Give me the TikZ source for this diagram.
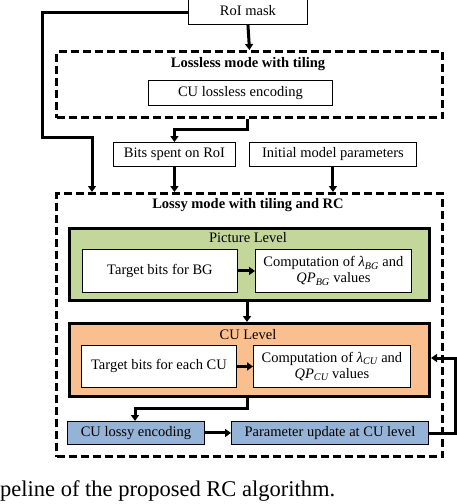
\documentclass[tikz,border=0pt]{standalone}
\usepackage{fontspec}
\setmainfont{Liberation Serif}
\usetikzlibrary{arrows.meta,calc}
\definecolor{picgreen}{RGB}{196,215,155}
\definecolor{cuorange}{RGB}{250,191,143}
\definecolor{encblue}{RGB}{149,179,215}
\newcommand{\lsub}[2]{{\itshape #1}\textsubscript{\itshape #2}}
\tikzset{
  txt/.style={font=\fontsize{14.5}{16}\selectfont},
  box/.style={draw=black, line width=0.9pt, fill=white, inner sep=0pt, align=center, txt, anchor=north west},
  bluebox/.style={box, fill=encblue},
  dbox/.style={draw=black, line width=3pt, dash pattern=on 8pt off 4pt, inner sep=0pt, anchor=north west},
  level/.style={draw=black, line width=3pt, inner sep=0pt, anchor=north west},
  conn/.style={line width=3pt},
  arr/.style={conn, -{Triangle[width=8pt,length=6pt]}},
  ttl/.style={font=\fontsize{14.5}{16}\selectfont\bfseries},
}
\begin{document}
\begin{tikzpicture}[x=1pt,y=-1pt]
\useasboundingbox (0,0) rectangle (456,504);
% dashed containers
\node[dbox, minimum width=386pt, minimum height=66pt] (lossless) at (55,50) {};
\node[dbox, minimum width=386pt, minimum height=263pt] (lossy) at (55,192) {};
\node[ttl] (tlossless) at (248,64) {Lossless mode with tiling};
\node[ttl] (tlossy) at (248,205) {Lossy mode with tiling and RC};
% top boxes
\node[box, minimum width=119pt, minimum height=28pt] (roi) at (188,-4) {\raisebox{-4pt}{RoI mask}};
\node[box, minimum width=184pt, minimum height=25pt] (cle) at (148,80) {CU lossless encoding};
\node[box, minimum width=122pt, minimum height=24pt] (bits) at (113,142) {Bits spent on RoI};
\node[box, minimum width=167pt, minimum height=24pt] (init) at (249,142) {Initial model parameters};
% picture level
\node[level, fill=picgreen, minimum width=360pt, minimum height=72pt] (pic) at (68,227) {};
\node[txt] (picl) at (248,238) {Picture Level};
\node[box, minimum width=155pt, minimum height=43pt] (tbg) at (82,249) {Target bits for BG};
\node[box, minimum width=156pt, minimum height=43pt] (cbg) at (255,249) {Computation of \lsub{λ}{BG} and\\\lsub{QP}{BG} values};
% CU level
\node[level, fill=cuorange, minimum width=360pt, minimum height=73pt] (cu) at (68,322) {};
\node[txt] (cul) at (248,335) {CU Level};
\node[box, minimum width=155pt, minimum height=42pt] (tcu) at (81,345) {Target bits for each CU};
\node[box, minimum width=157pt, minimum height=42pt] (ccu) at (253,345) {Computation of \lsub{λ}{CU} and\\\lsub{QP}{CU} values};
% bottom
\node[bluebox, minimum width=137pt, minimum height=23pt] (lenc) at (67,421) {CU lossy encoding};
\node[bluebox, minimum width=197pt, minimum height=23pt] (pupd) at (231,421) {Parameter update at CU level};
% caption
\node[anchor=base west, inner sep=0pt, font=\fontsize{22.5}{25}\selectfont] (cap) at (0,496) {peline of the proposed RC algorithm.};
% connectors
\coordinate (c1) at (42,12);
\coordinate (c2) at (42,137);
\coordinate (c3) at (92,137);
\draw[arr] (roi.west |- c1) -- (c1) -- (c2) -- (c3) -- (c3 |- lossy.north);
\draw[arr] (roi.south) -- (lossless.north);
\coordinate (c4) at (247,129);
\draw[arr] (lossless.south -| c4) -- (c4) -- (c4 -| bits.north) -- (bits.north);
\draw[arr] (bits.south) -- (bits.south |- lossy.north);
\draw[arr] (init.south) -- (init.south |- lossy.north);
\draw[arr] (tbg.east) -- (cbg.west);
\draw[arr] (pic.south -| c4) -- (cu.north -| c4);
\draw[arr] (tcu.east) -- (ccu.west);
\coordinate (c5) at (247,408);
\coordinate (c6) at (135,408);
\draw[arr] (cu.south -| c5) -- (c5) -- (c6) -- (c6 |- lenc.north);
\draw[arr] (lenc.east) -- (pupd.west);
\coordinate (c7) at (455,433);
\coordinate (c8) at (455,358);
\draw[arr] (pupd.east |- c7) -- (c7) -- (c8) -- (c8 -| cu.east);
\end{tikzpicture}
\end{document}
